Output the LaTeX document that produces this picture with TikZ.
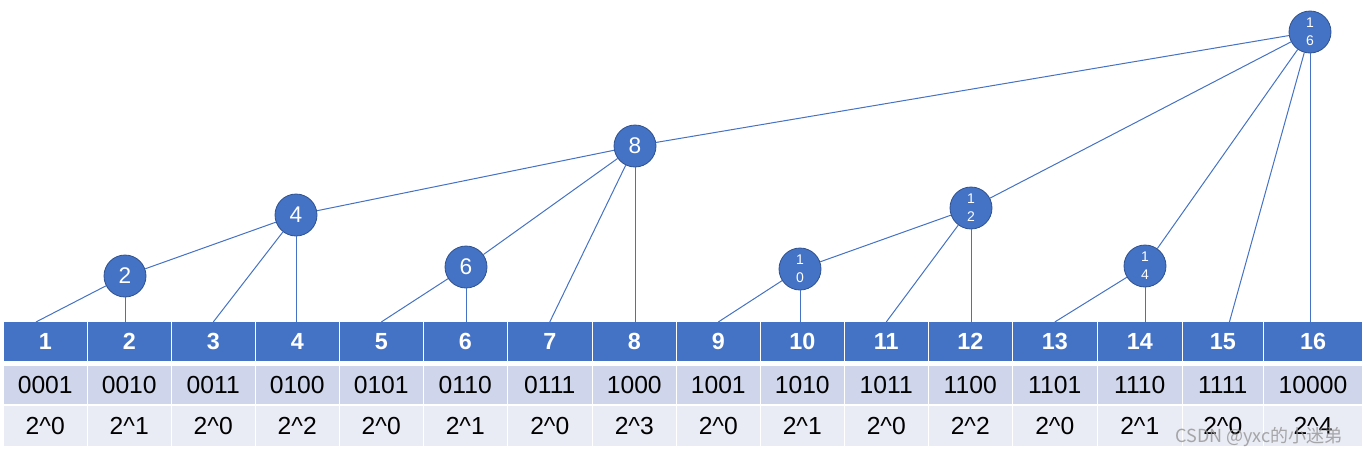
\documentclass[tikz,border=0pt]{standalone}
\usepackage{fontspec}
\setmainfont{Liberation Sans}
\newfontfamily\cjk{Noto Sans CJK SC}
\usepackage{tikz}

\definecolor{ofblue}{HTML}{4472C4}
\definecolor{ofdark}{HTML}{2F528F}
\definecolor{rowa}{HTML}{CFD5EA}
\definecolor{rowb}{HTML}{E9EBF5}

\begin{document}
\begin{tikzpicture}[
    x=0.75pt, y=-0.75pt,
    cell/.style={inner sep=0pt, outer sep=0pt, minimum height=#1},
    head/.style={cell=29.25pt, fill=ofblue, text=white, font=\fontsize{17.5}{20}\selectfont\bfseries},
    bin/.style={cell=28.5pt, fill=rowa, font=\fontsize{18.5}{22}\selectfont},
    pow/.style={cell=30pt, fill=rowb, font=\fontsize{18.5}{22}\selectfont},
    tnode/.style={circle, fill=ofblue, draw=ofdark, line width=0.6pt, minimum size=31.5pt, inner sep=0pt, text=white, font=\fontsize{17}{20}\selectfont},
    tnode2/.style={tnode, align=center, font=\fontsize{10.5}{13.5}\selectfont},
    edge/.style={draw=ofblue, line width=0.75pt}
]
\useasboundingbox (0,0) rectangle (1363,457);

% 表格：下标、二进制、lowbit
\foreach \i/\a/\b/\bn/\e in {1/4/88/0001/0, 2/88/172/0010/1, 3/172/256/0011/0,
    4/256/340/0100/2, 5/340/424/0101/0, 6/424/508/0110/1, 7/508/593/0111/0,
    8/593/677/1000/3, 9/677/761/1001/0, 10/761/845/1010/1, 11/845/929/1011/0,
    12/929/1013/1100/2, 13/1013/1098/1101/0, 14/1098/1183/1110/1,
    15/1183/1264/1111/0, 16/1264/1363.5/10000/4}{
  \pgfmathsetmacro\cx{(\a+\b-1.5)/2}
  \pgfmathsetmacro\w{(\b-\a-1.5)*0.75}
  \node[head, minimum width=\w pt] (h\i) at (\cx,341.5) {\i};
  \node[bin, minimum width=\w pt] (b\i) at (\cx,385) {\bn};
  \node[pow, minimum width=\w pt] (p\i) at (\cx,426) {2\textasciicircum\e};
}

% 树状数组的结点
\node[tnode] (n2) at (125,276) {2};
\node[tnode] (n4) at (296,215) {4};
\node[tnode] (n6) at (466,267) {6};
\node[tnode] (n8) at (635,146) {8};
\node[tnode2] (n10) at (800,269) {1\\0};
\node[tnode2] (n12) at (971,208) {1\\2};
\node[tnode2] (n14) at (1145,266) {1\\4};
\node[tnode2] (n16) at (1310,32) {1\\6};

% 结点之间
\draw[edge] (n2) -- (n4);
\draw[edge] (n4) -- (n8);
\draw[edge] (n6) -- (n8);
\draw[edge] (n8) -- (n16);
\draw[edge] (n10) -- (n12);
\draw[edge] (n12) -- (n16);
\draw[edge] (n14) -- (n16);

% 结点到表格
\draw[edge] (n2) -- ([xshift=-7pt]h1.north);
\draw[edge] (n2) -- (n2 |- h2.north);
\draw[edge] (n4) -- (h3.north);
\draw[edge] (n4) -- (n4 |- h4.north);
\draw[edge] (n6) -- (h5.north);
\draw[edge] (n6) -- (n6 |- h6.north);
\draw[edge] (n8) -- (h7.north);
\draw[edge] (n8) -- (n8 |- h8.north);
\draw[edge] (n10) -- (h9.north);
\draw[edge] (n10) -- (n10 |- h10.north);
\draw[edge] (n12) -- (h11.north);
\draw[edge] (n12) -- (n12 |- h12.north);
\draw[edge] (n14) -- (h13.north);
\draw[edge] (n14) -- (n14 |- h14.north);
\draw[edge] (n16) -- ([xshift=5pt]h15.north);
\draw[edge] (n16) -- (n16 |- h16.north);

% 水印
\node[text=gray!80, opacity=0.85, font=\cjk\fontsize{13.5}{15}\selectfont] (wm) at (1259,437) {CSDN @yxc的小迷弟};

\end{tikzpicture}
\end{document}
